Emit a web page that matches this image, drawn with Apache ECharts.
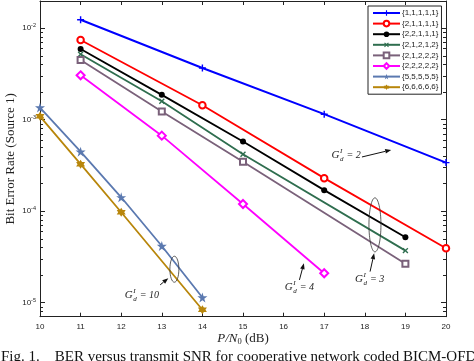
<!DOCTYPE html>
<html>
<head>
<meta charset="utf-8">
<script src="https://cdn.jsdelivr.net/npm/echarts@6/dist/echarts.min.js"></script>
<style>
html,body{margin:0;padding:0;background:#fff;}
#c{width:474px;height:361px;}
</style>
</head>
<body>
<div id="c"></div>
<script>
// ---- data (BER values) ----
const xTicks = [10, 11, 12, 13, 14, 15, 16, 17, 18, 19, 20];
const yDecades = [-5, -4, -3, -2];

const seriesNames = ['{1,1,1,1,1}', '{2,1,1,1,1}', '{2,2,1,1,1}', '{2,1,2,1,2}', '{2,1,2,2,2}', '{2,2,2,2,2}', '{5,5,5,5,5}', '{6,6,6,6,6}'];

const snr_11111 = [11, 14, 17, 20];
const ber_11111 = [1.24e-2, 3.68e-3, 1.15e-3, 3.40e-4];

const snr_21111 = [11, 14, 17, 20];
const ber_21111 = [7.44e-3, 1.44e-3, 2.30e-4, 3.94e-5];

const snr_22111 = [11, 13, 15, 17, 19];
const ber_22111 = [5.94e-3, 1.87e-3, 5.77e-4, 1.70e-4, 5.20e-5];

const snr_21212 = [11, 13, 15, 19];
const ber_21212 = [5.20e-3, 1.59e-3, 4.20e-4, 3.71e-5];

const snr_21222 = [11, 13, 15, 19];
const ber_21222 = [4.51e-3, 1.23e-3, 3.48e-4, 2.66e-5];

const snr_22222 = [11, 13, 15, 17];
const ber_22222 = [3.06e-3, 6.70e-4, 1.20e-4, 2.10e-5];

const snr_55555 = [10, 11, 12, 13, 14];
const ber_55555 = [1.36e-3, 4.48e-4, 1.42e-4, 4.17e-5, 1.14e-5];

const snr_66666 = [10, 11, 12, 14];
const ber_66666 = [1.09e-3, 3.27e-4, 9.75e-5, 8.37e-6];

// ---- styling ----
const colors = ['#0000ff', '#ff0000', '#000000', '#2f6e4f', '#7a617a', '#ff00ff', '#5b79b0', '#b8860b'];
const PLUS = 'path://M4,0h2v4h4v2h-4v4h-2v-4h-4v-2h4z';
const STAR5 = 'path://M50,0 L61,35 L98,35 L68,57 L79,91 L50,70 L21,91 L32,57 L2,35 L39,35 Z';
const STAR6 = 'path://M50,0 L64,25 L93,25 L79,50 L93,75 L64,75 L50,100 L36,75 L7,75 L21,50 L7,25 L36,25 Z';
const symbols = [
  {symbol: PLUS, symbolSize: 7, rotate: 0},
  {symbol: 'emptyCircle', symbolSize: 6.5, rotate: 0},
  {symbol: 'circle', symbolSize: 6, rotate: 0},
  {symbol: PLUS, symbolSize: 7, rotate: 45},
  {symbol: 'emptyRect', symbolSize: 6, rotate: 0},
  {symbol: 'emptyDiamond', symbolSize: 8, rotate: 0},
  {symbol: STAR5, symbolSize: 10, rotate: 0},
  {symbol: STAR6, symbolSize: 9, rotate: 0}
];

const xs = [snr_11111, snr_21111, snr_22111, snr_21212, snr_21222, snr_22222, snr_55555, snr_66666];
const ys = [ber_11111, ber_21111, ber_22111, ber_21212, ber_21222, ber_22222, ber_55555, ber_66666];

const yMin = -5.153, yMax = -1.702;
const minorTicks = [];
for (let n = -6; n <= -2; n++) {
  for (let k = 2; k <= 9; k++) {
    const v = n + Math.log10(k);
    if (v > yMin && v < yMax) minorTicks.push(v);
  }
}

const series = seriesNames.map((name, i) => ({
  name: name,
  type: 'line',
  xAxisIndex: 0,
  yAxisIndex: 0,
  data: xs[i].map((x, j) => [x, Math.log10(ys[i][j])]),
  symbol: symbols[i].symbol,
  symbolSize: symbols[i].symbolSize,
  symbolRotate: symbols[i].rotate,
  showAllSymbol: true,
  lineStyle: {color: colors[i], width: i === 0 ? 2 : 1.8},
  itemStyle: {color: colors[i], borderColor: colors[i], borderWidth: (symbols[i].symbol.indexOf('empty') === 0) ? 1.3 : 0},
  emphasis: {disabled: true},
  animation: false,
  z: 3
}));

const tickFont = {fontFamily: 'Liberation Sans, Arial, sans-serif', fontSize: 8, color: '#222'};
const axisLineStyle = {lineStyle: {color: '#222', width: 1}};

const chart = echarts.init(document.getElementById('c'), null, {renderer: 'canvas'});
chart.setOption({
  animation: false,
  backgroundColor: '#fff',
  grid: {left: 40, right: 28, top: 1, bottom: 44.3, containLabel: false, outerBoundsMode: 'none'},
  legend: {
    orient: 'vertical',
    left: 368, top: 6,
    padding: [3, 3, 3, 4],
    itemWidth: 27, itemHeight: 7, itemGap: 2.6,
    backgroundColor: '#fff',
    borderColor: '#222', borderWidth: 1,
    textStyle: {fontFamily: 'Liberation Sans, Arial, sans-serif', fontSize: 8, color: '#222', padding: [0, 0, 0, -3]},
    data: seriesNames
  },
  xAxis: [
    {
      type: 'value', min: 10, max: 20, interval: 1, position: 'bottom',
      axisLine: axisLineStyle,
      axisTick: {inside: true, length: 4, lineStyle: {color: '#222'}},
      axisLabel: Object.assign({margin: 6}, tickFont),
      splitLine: {show: false},
      name: '{i|P/N}{sub|0}{r| (dB)}',
      nameLocation: 'middle', nameGap: 14, nameMoveOverlap: false,
      nameTextStyle: {
        rich: {
          i: {fontFamily: 'Liberation Serif, serif', fontStyle: 'italic', fontSize: 13, color: '#222'},
          sub: {fontFamily: 'Liberation Serif, serif', fontSize: 8.5, color: '#222', padding: [7, 0, 0, 0]},
          r: {fontFamily: 'Liberation Serif, serif', fontSize: 13, color: '#222'}
        }
      }
    },
    {
      type: 'value', min: 10, max: 20, interval: 1, position: 'top',
      axisLine: axisLineStyle,
      axisTick: {inside: true, length: 4, lineStyle: {color: '#222'}},
      axisLabel: {show: false},
      splitLine: {show: false}
    }
  ],
  yAxis: [
    {
      type: 'value', min: yMin, max: yMax, position: 'left',
      axisLine: axisLineStyle,
      axisTick: {inside: true, length: 5, customValues: yDecades, lineStyle: {color: '#222'}},
      axisLabel: {
        customValues: yDecades, margin: 4,
        formatter: v => '{b|10}{s|' + v + '}',
        rich: {
          b: {fontFamily: 'Liberation Sans, Arial, sans-serif', fontSize: 8, color: '#222'},
          s: {fontFamily: 'Liberation Sans, Arial, sans-serif', fontSize: 5.5, color: '#222', padding: [0, 0, 5, 0]}
        }
      },
      splitLine: {show: false},
      name: 'Bit Error Rate (Source 1)',
      nameLocation: 'middle', nameRotate: 90, nameGap: 23, nameMoveOverlap: false,
      nameTextStyle: {fontFamily: 'Liberation Serif, serif', fontSize: 13, color: '#222'}
    },
    {
      type: 'value', min: yMin, max: yMax, position: 'left',
      axisLine: {show: false},
      axisTick: {inside: true, length: 3, customValues: minorTicks, lineStyle: {color: '#222'}},
      axisLabel: {show: false},
      splitLine: {show: false}
    },
    {
      type: 'value', min: yMin, max: yMax, position: 'right',
      axisLine: axisLineStyle,
      axisTick: {inside: true, length: 5, customValues: yDecades, lineStyle: {color: '#222'}},
      axisLabel: {show: false},
      splitLine: {show: false}
    },
    {
      type: 'value', min: yMin, max: yMax, position: 'right',
      axisLine: {show: false},
      axisTick: {inside: true, length: 3, customValues: minorTicks, lineStyle: {color: '#222'}},
      axisLabel: {show: false},
      splitLine: {show: false}
    }
  ],
  series: series
});

// ---- annotations (positions in data coords: [snr, log10(BER)]) ----
const annoTexts = [
  {label: '2', at: [17.18, -3.385]},
  {label: '3', at: [17.76, -4.743]},
  {label: '4', at: [16.03, -4.835]},
  {label: '10', at: [12.09, -4.915]}
];
const annoArrows = [
  {from: [17.93, -3.407], to: [18.65, -3.330]},
  {from: [18.13, -4.660], to: [18.23, -4.459]},
  {from: [16.39, -4.751], to: [16.50, -4.568]},
  {from: [12.96, -4.805], to: [13.16, -4.732]}
];
const annoEllipses = [
  {at: [18.25, -4.149], rx: 6, ry: 27},
  {at: [13.31, -4.634], rx: 4.5, ry: 13}
];

const px = p => chart.convertToPixel({gridIndex: 0}, p);
const g = [];
const serifIt = {fontFamily: 'Liberation Serif, serif', fontStyle: 'italic', fill: '#222'};
annoTexts.forEach(a => {
  const p = px(a.at);
  g.push({type: 'group', x: p[0], y: p[1], z: 10, silent: true, children: [
    {type: 'text', x: 0, y: 0, style: Object.assign({text: 'G', fontSize: 11, verticalAlign: 'middle'}, serifIt)},
    {type: 'text', x: 8.5, y: -4, style: Object.assign({text: 'I', fontSize: 7, verticalAlign: 'middle'}, serifIt)},
    {type: 'text', x: 8.5, y: 4, style: Object.assign({text: 'd', fontSize: 7, verticalAlign: 'middle'}, serifIt)},
    {type: 'text', x: 15, y: 0, style: Object.assign({text: '= ' + a.label, fontSize: 10, verticalAlign: 'middle'}, serifIt)}
  ]});
});
annoArrows.forEach(a => {
  const s = px(a.from), e = px(a.to);
  const ang = Math.atan2(e[1] - s[1], e[0] - s[0]);
  const L = 6, W = 2.3;
  const bx = e[0] - L * Math.cos(ang), by = e[1] - L * Math.sin(ang);
  const nx = -Math.sin(ang), ny = Math.cos(ang);
  g.push({type: 'line', z: 10, silent: true, shape: {x1: s[0], y1: s[1], x2: bx, y2: by}, style: {stroke: '#111', lineWidth: 1}});
  g.push({type: 'polygon', z: 10, silent: true, shape: {points: [[e[0], e[1]], [bx + nx * W, by + ny * W], [bx - nx * W, by - ny * W]]}, style: {fill: '#111'}});
});
annoEllipses.forEach(a => {
  const p = px(a.at);
  g.push({type: 'ellipse', z: 10, silent: true, shape: {cx: p[0], cy: p[1], rx: a.rx, ry: a.ry}, style: {fill: 'none', stroke: '#333', lineWidth: 0.8}});
});
// figure caption (cut off at the bottom of the picture)
g.push({type: 'text', left: 1, top: 350, z: 10, silent: true, style: {text: 'Fig. 1.    BER versus transmit SNR for cooperative network coded BICM-OFDM', fontFamily: 'Liberation Serif, serif', fontSize: 15, fill: '#111'}});
chart.setOption({graphic: g});
</script>
</body>
</html>
